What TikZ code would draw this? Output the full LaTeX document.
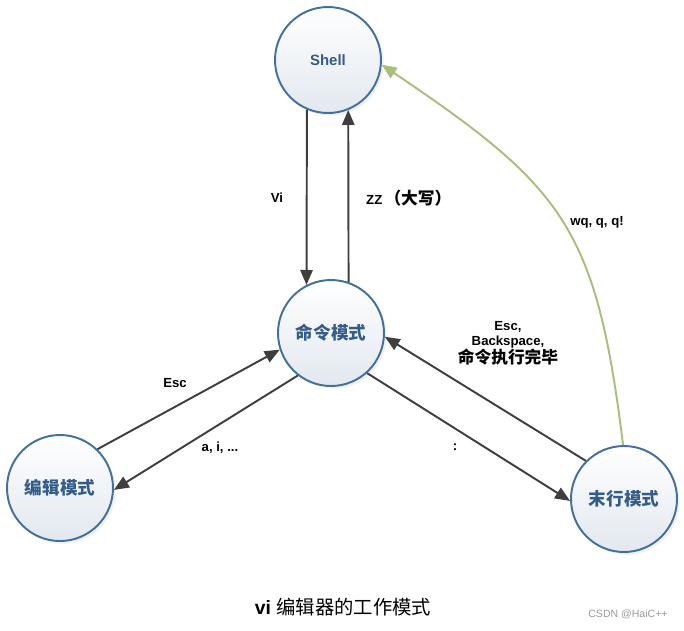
\documentclass[tikz,border=0pt]{standalone}
\usepackage{fontspec}
\setmainfont{Liberation Sans}
\newfontfamily\cjk{Noto Sans CJK SC}
\usepackage{xcolor}
\usepackage{tikz}
\usetikzlibrary{arrows.meta,shadows}

\definecolor{ringblue}{RGB}{66,112,158}
\definecolor{textblue}{RGB}{52,92,138}
\definecolor{fillgray}{RGB}{226,232,239}
\definecolor{arrowgray}{RGB}{62,62,62}
\definecolor{olivegreen}{RGB}{168,190,122}

\tikzset{
	mode/.style={circle,draw=ringblue,line width=1.1pt,minimum size=2.12cm,inner sep=0pt,
		top color=white,bottom color=fillgray,text=textblue,font=\bfseries,
		drop shadow={opacity=0.12,shadow xshift=1.5pt,shadow yshift=-1.5pt}},
	trans/.style={draw=arrowgray,line width=1.1pt,-{Triangle[length=8.5pt,width=7pt]}},
	lbl/.style={font=\bfseries\fontsize{7.5}{9}\selectfont,align=center}
}

\begin{document}
\begin{tikzpicture}
					\useasboundingbox (0,0) rectangle (13.68,-12.6);
					
					\node (shell) at (6.56,-1.20) [mode] {\fontsize{8.5}{10}\selectfont Shell};
					\node (cmd) at (6.62,-6.66) [mode] {\cjk\bfseries\fontsize{10}{12}\selectfont 命令模式};
					\node (edit) at (1.20,-9.76) [mode] {\cjk\bfseries\fontsize{10}{12}\selectfont 编辑模式};
					\node (last) at (12.48,-9.98) [mode] {\cjk\bfseries\fontsize{10}{12}\selectfont 末行模式};
					
					\draw[trans] (shell.247) -- (cmd.117);
					\draw[trans] (cmd.71) -- (shell.292);
					\draw[trans] (edit.46) -- (cmd.198);
					\draw[trans] (cmd.232) -- (edit.358);
					\draw[trans] (cmd.312) -- (last.182);
					\draw[trans] (last.135) -- (cmd.356);
					\draw[trans,draw=olivegreen] (last.91) to[out=97,in=-34,looseness=1.25] (shell.355);
					
					\node (vi) at (5.54,-3.96) [lbl] {Vi};
					\node (zz) at (7.20,-3.96) [lbl,anchor=west] {ZZ\,{\cjk\bfseries\fontsize{9.5}{11}\selectfont （大写）}};
					\node (esc) at (3.50,-7.66) [lbl] {Esc};
					\node (ai) at (4.40,-8.96) [lbl] {a, i, ...};
					\node (colon) at (9.10,-8.94) [lbl] {:};
					\node (back) at (10.16,-6.86) [lbl] {Esc,\\Backspace,\\[-1pt]{\cjk\bfseries\fontsize{9.5}{11}\selectfont 命令执行完毕}};
					\node (wq) at (11.94,-4.44) [lbl] {wq, q, q!};
					
					\node (title) at (6.86,-12.14) {\fontsize{11}{13}\selectfont\textbf{vi} {\cjk 编辑器的工作模式}};
					\node (mark) at (12.56,-12.28) [text=gray!80,font=\fontsize{6}{7}\selectfont] {CSDN @HaiC++};
				\end{tikzpicture}
\end{document}
